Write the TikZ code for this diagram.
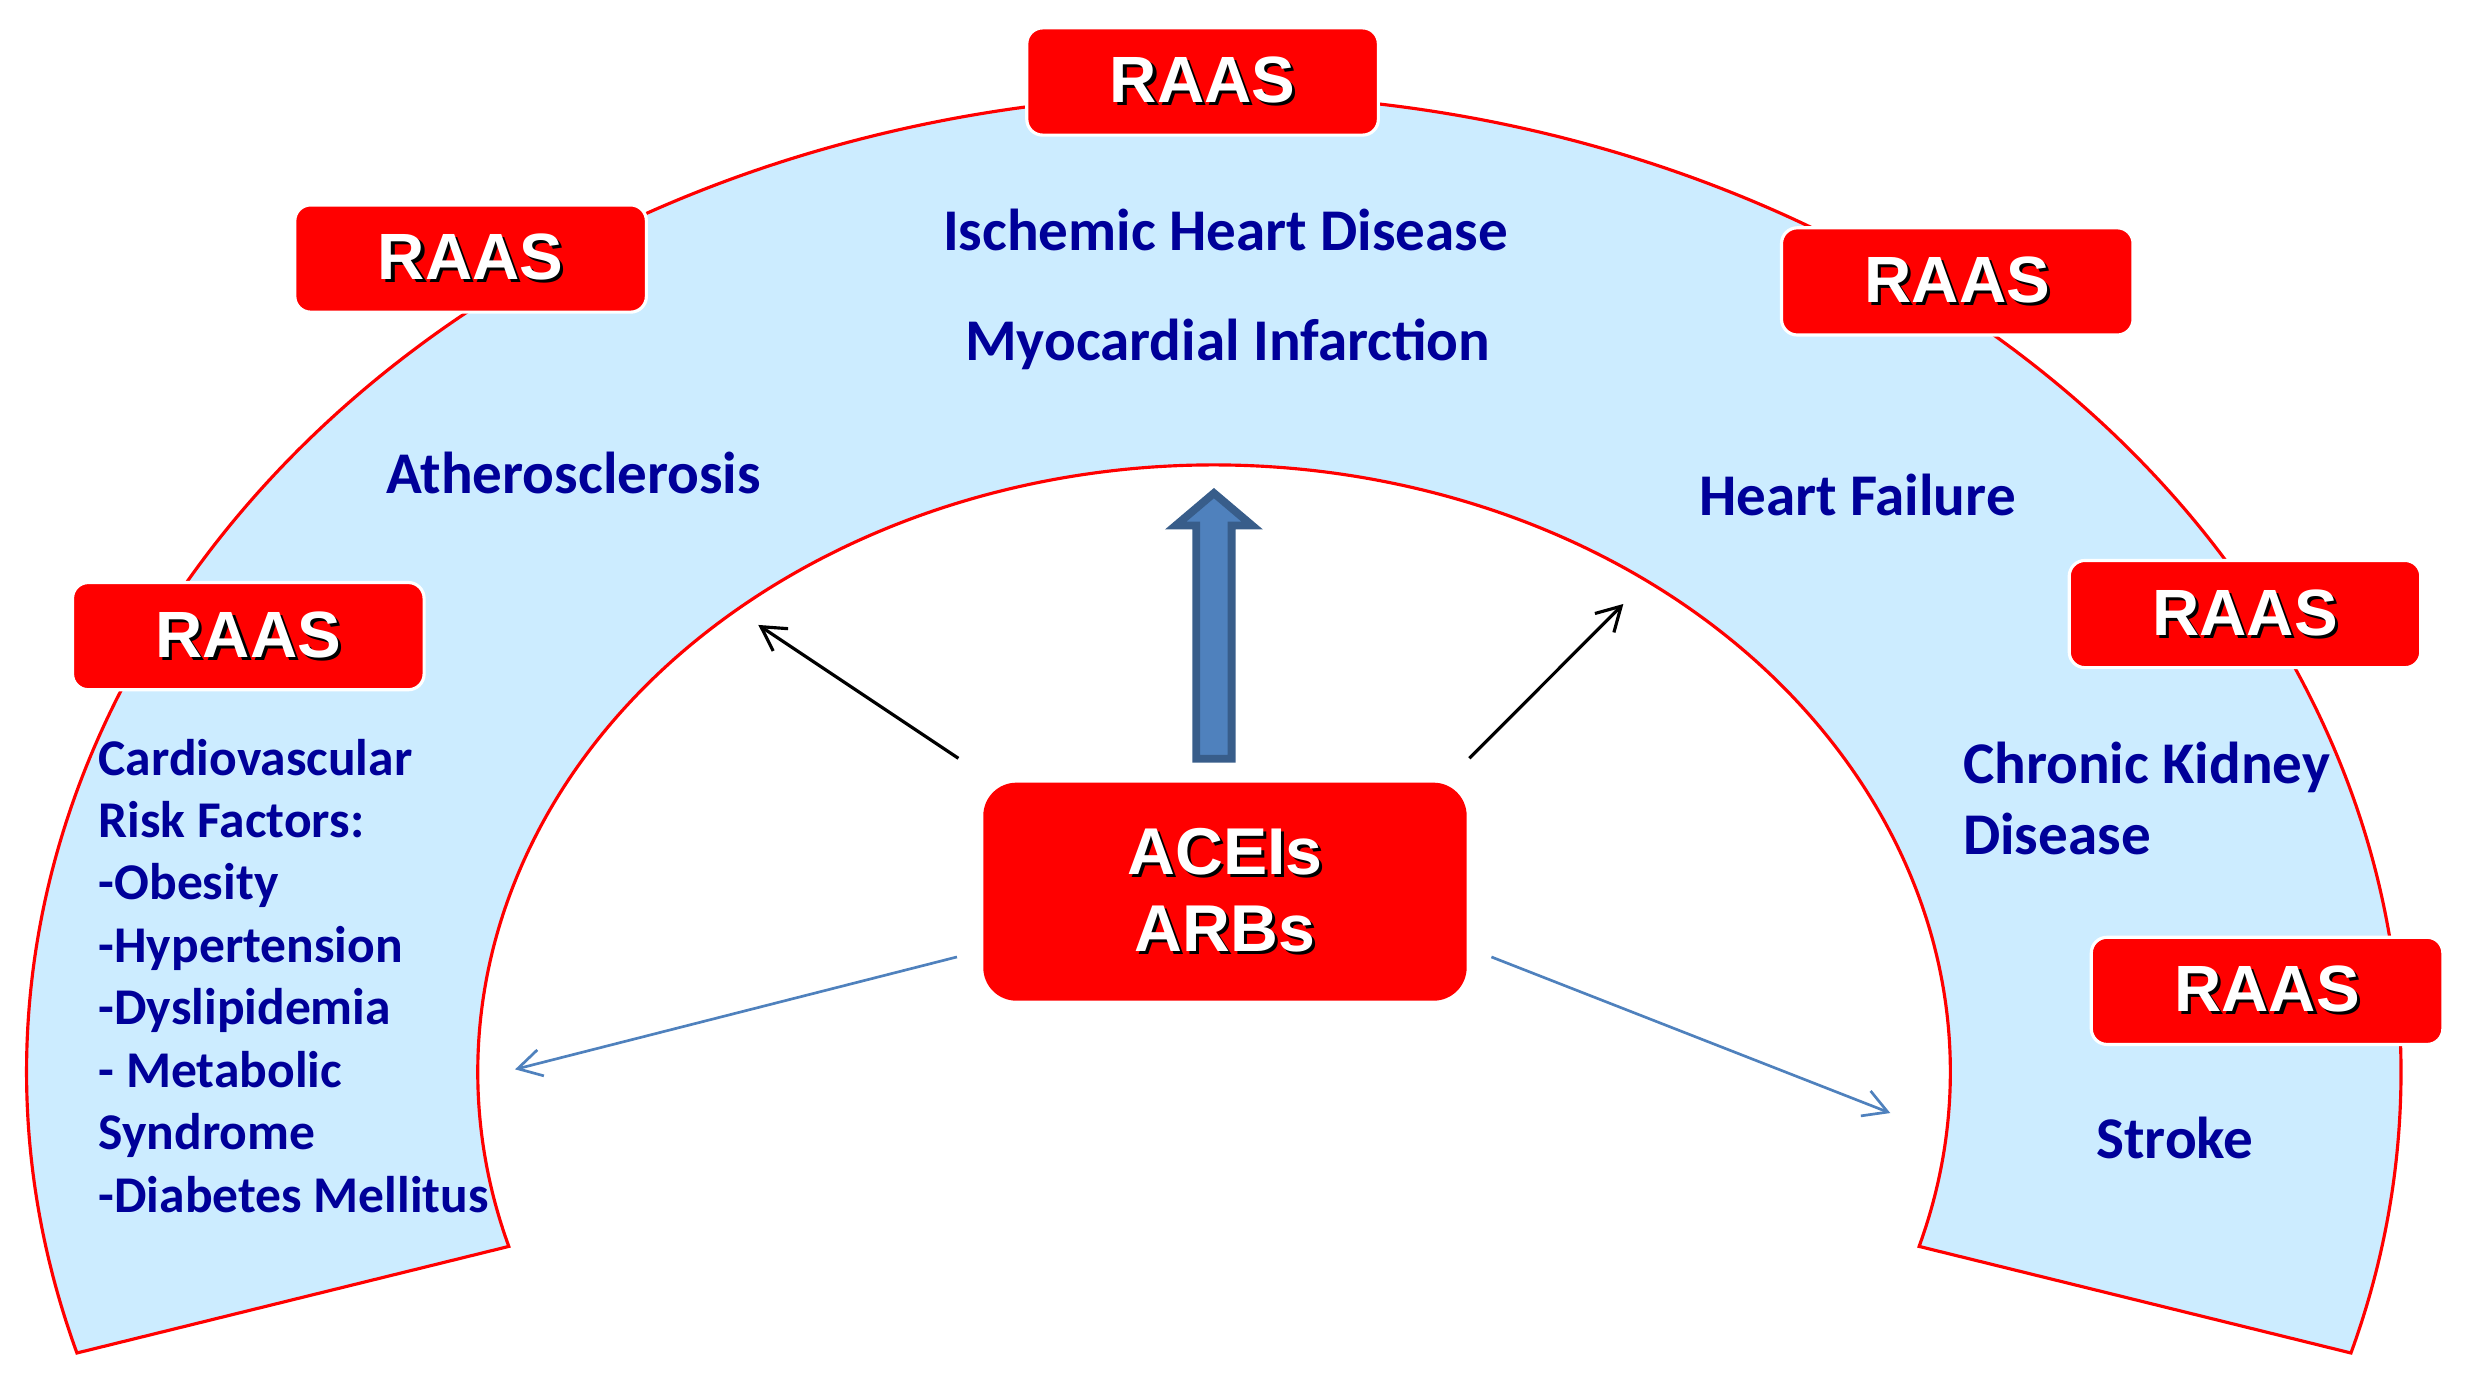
\documentclass[tikz,border=0pt]{standalone}
\usepackage{fontspec}
\newfontfamily\arialfont{Liberation Sans}
\newfontfamily\califont{Carlito}
\usetikzlibrary{arrows.meta}
\definecolor{bandblue}{RGB}{204,236,255}
\definecolor{navytext}{RGB}{0,0,153}
\definecolor{steel}{RGB}{79,129,189}
\definecolor{steeldark}{RGB}{56,93,138}
\newcommand{\shadowed}[1]{\makebox[0pt][l]{\hspace{2pt}\raisebox{-2pt}{\textcolor{black}{#1}}}\textcolor{white}{#1}}
\tikzset{
  band/.style={fill=bandblue, draw=red, line width=2pt},
  raas/.style={rectangle, rounded corners=10pt, fill=red, draw=white, line width=2pt,
    minimum width=223pt, minimum height=68pt, inner sep=0pt,
    font=\arialfont\bfseries\fontsize{41.5}{48}\selectfont},
  drug/.style={rectangle, rounded corners=21pt, fill=red, draw=none,
    minimum width=306.6pt, minimum height=138.3pt, inner sep=0pt, align=center,
    font=\arialfont\bfseries\fontsize{42}{48.6}\selectfont},
  lbl/.style={anchor=base west, inner sep=0pt, text=navytext,
    font=\califont\bfseries\fontsize{37.5}{45}\selectfont},
  lbllist/.style={anchor=base west, inner sep=0pt, text=navytext, align=left,
    font=\califont\bfseries\fontsize{32.7}{39.6}\selectfont},
  blkarrow/.style={draw=black, line width=2pt, -{Straight Barb[length=15pt,width=17pt]}},
  bluearrow/.style={draw=steel, line width=1.7pt, -{Straight Barb[length=15pt,width=17pt]}},
  bigarrow/.style={fill=steel, draw=steeldark, line width=5pt, line join=miter}
}
\begin{document}
\begin{tikzpicture}[x=1pt, y=-1pt]
\useasboundingbox (0,0) rectangle (1568,885);
% band
\path[band] (48.8,858.2) arc[start angle=196.7, end angle=-16.7, x radius=753pt, y radius=620pt]
  -- (1217.3,790.6) arc[start angle=-16.7, end angle=196.7, x radius=467pt, y radius=385pt] -- cycle;
% RAAS boxes
\node[raas] (r1) at (762.8,51.7) {\shadowed{RAAS}};
\node[raas] (r2) at (298.5,164) {\shadowed{RAAS}};
\node[raas] (r3) at (157.5,403.5) {\shadowed{RAAS}};
\node[raas] (r4) at (1241.5,178.5) {\shadowed{RAAS}};
\node[raas] (r5) at (1424,389.5) {\shadowed{RAAS}};
\node[raas] (r6) at (1438,628.5) {\shadowed{RAAS}};
% labels
\node[lbl] (ihd) at (598,158.6) {Ischemic Heart Disease};
\node[lbl] (mi) at (612,228.4) {Myocardial Infarction};
\node[lbl] (ath) at (245,313) {Atherosclerosis};
\node[lbl] (hf) at (1077.5,327.3) {Heart Failure};
\node[lbl, align=left] (ckd) at (1245,542) {Chronic Kidney\\Disease};
\node[lbl] (stroke) at (1329.5,735) {Stroke};
\node[lbllist] (risk) at (62.4,768.8) {Cardiovascular\\Risk Factors:\\-Obesity\\-Hypertension\\-Dyslipidemia\\- Metabolic\\Syndrome\\-Diabetes Mellitus};
% central box
\node[drug] (drugs) at (777,565.6) {\shadowed{ACEIs}\\\shadowed{ARBs}};
% big arrow
\draw[bigarrow] (758.8,481.3) -- (758.8,333.3) -- (745.8,333.3) -- (770,312.8) -- (794.2,333.3) -- (781.2,333.3) -- (781.2,481.3) -- cycle;
% thin arrows
\coordinate (la0) at (607.9,481);
\coordinate (la1) at (481,396.4);
\coordinate (ra0) at (932,481);
\coordinate (ra1) at (1029.7,383.1);
\coordinate (lb0) at (607,607);
\coordinate (lb1) at (326.7,678.3);
\coordinate (rb0) at (946,607);
\coordinate (rb1) at (1199,706);
\draw[blkarrow] (la0) -- (la1);
\draw[blkarrow] (ra0) -- (ra1);
\draw[bluearrow] (lb0) -- (lb1);
\draw[bluearrow] (rb0) -- (rb1);
\end{tikzpicture}
\end{document}
